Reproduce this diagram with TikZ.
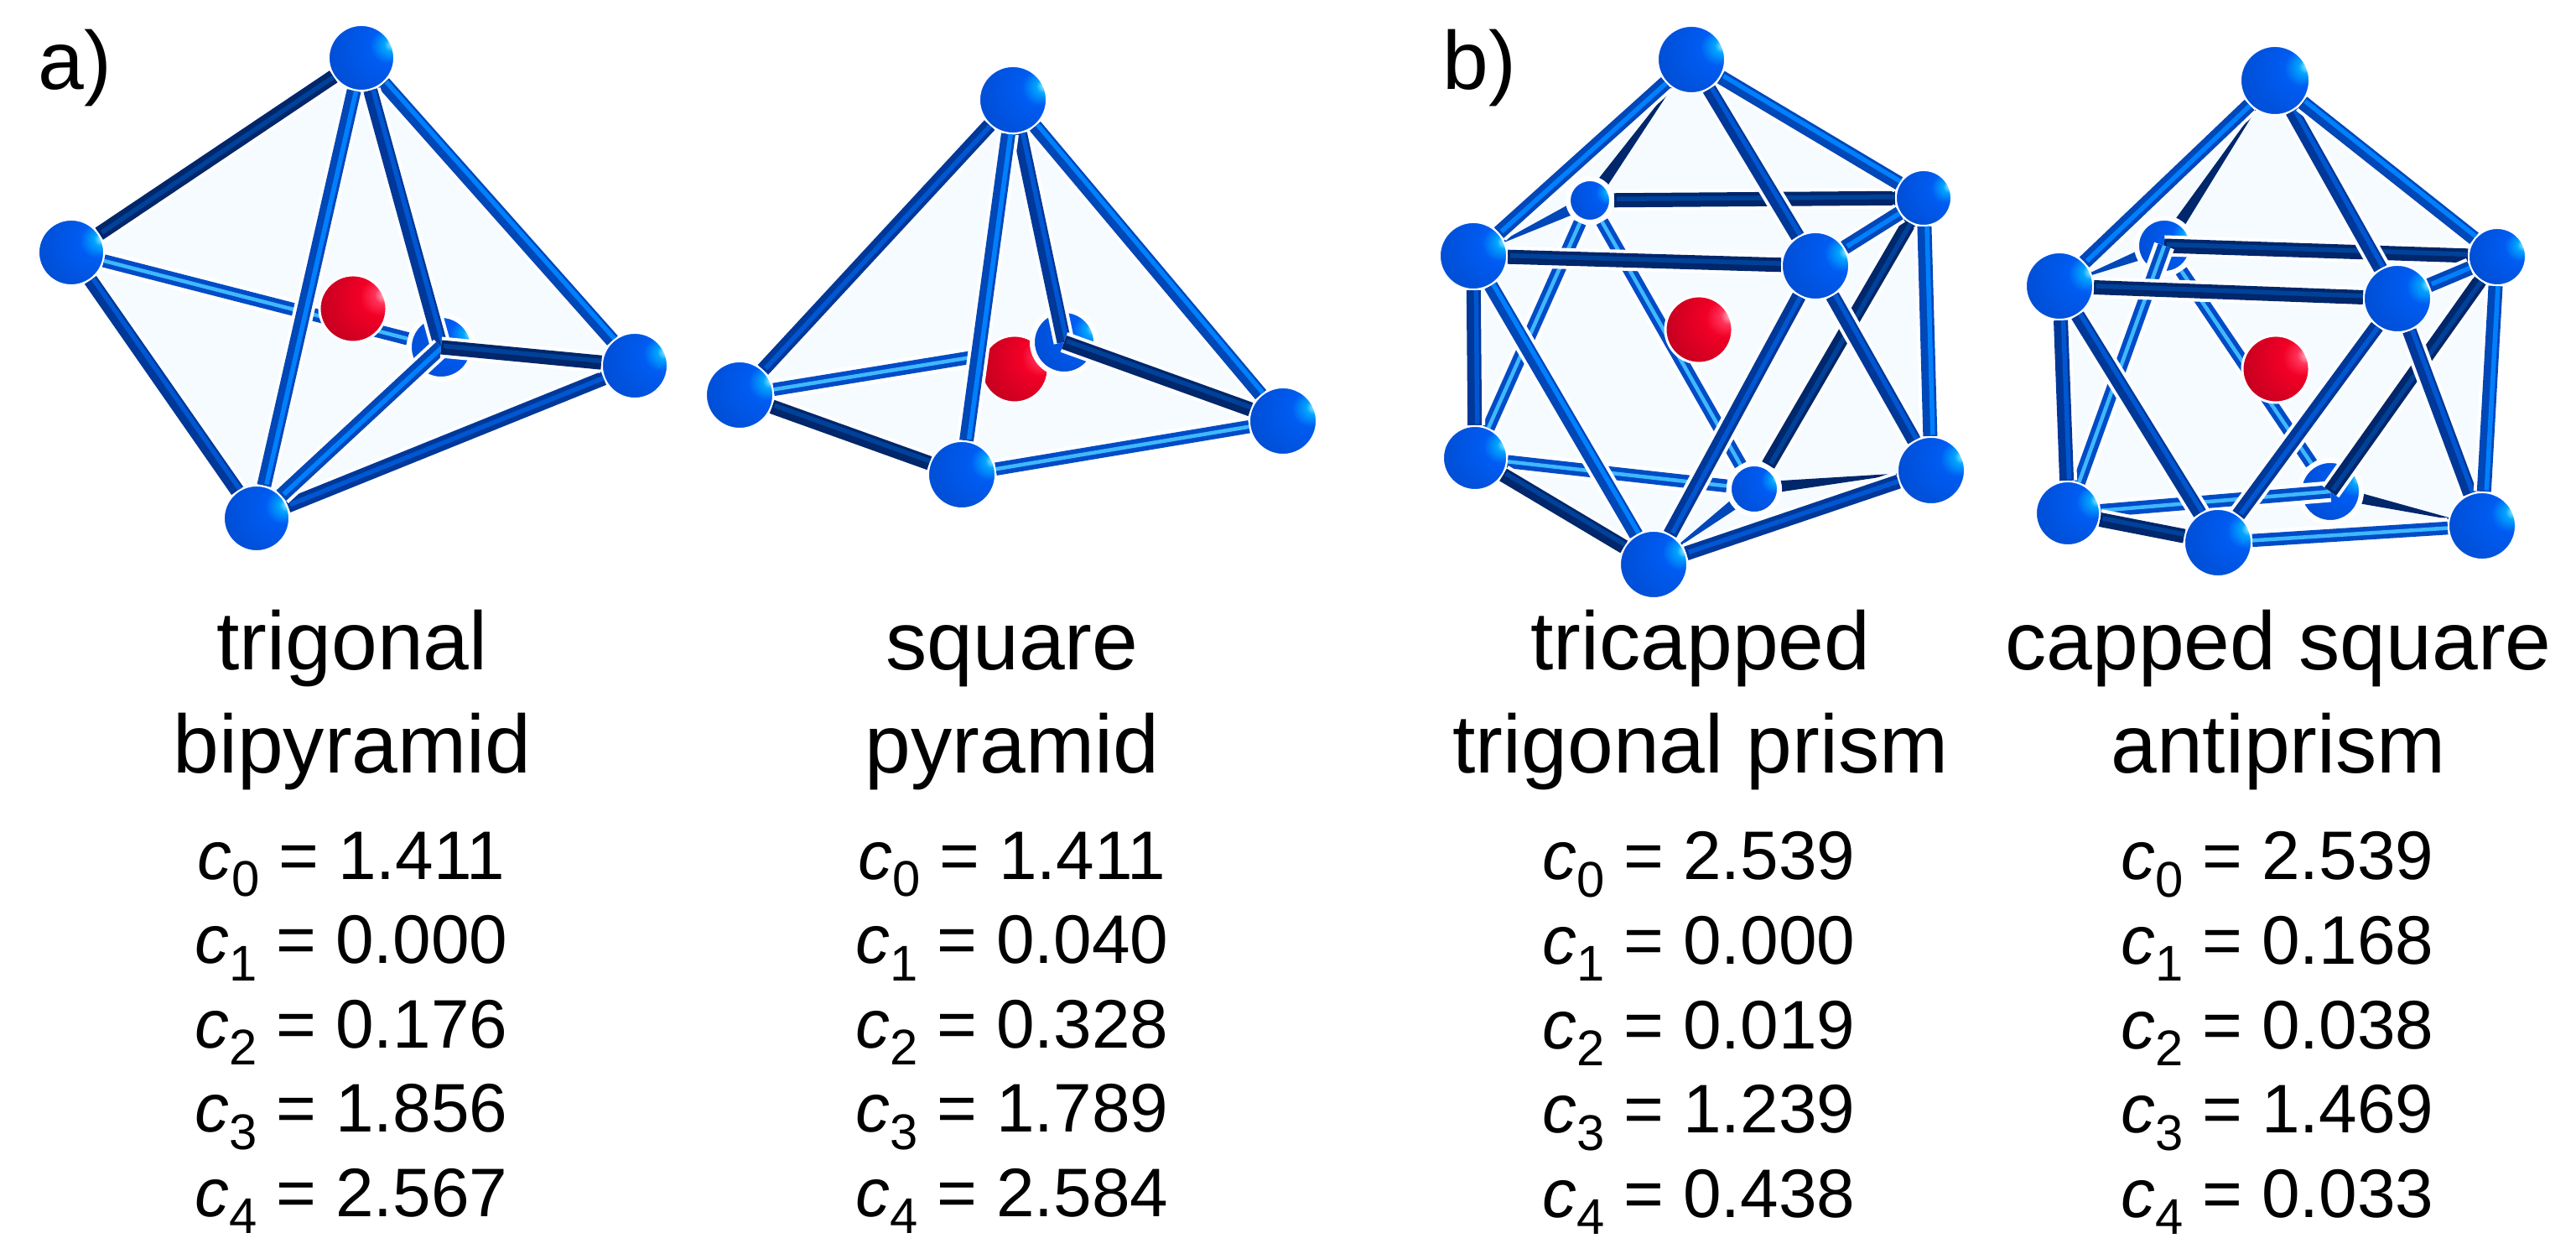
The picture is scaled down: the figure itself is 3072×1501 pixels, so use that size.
\documentclass[tikz,border=0pt]{standalone}
\usepackage{fontspec}
\setmainfont{Liberation Sans}
\usepackage{tikz}
\usetikzlibrary{calc}
\pgfdeclarelayer{faces}
\pgfdeclarelayer{rear}
\pgfdeclarelayer{core}
\pgfdeclarelayer{backatoms}
\pgfdeclarelayer{front}
\pgfsetlayers{faces,rear,core,backatoms,front,main}
\pgfdeclareradialshading{atomblue}{\pgfpoint{24bp}{11bp}}{rgb(0bp)=(.75,.97,1);rgb(5bp)=(0,.65,1);rgb(13bp)=(0,.36,.95);rgb(40bp)=(0,.3,.82);rgb(70bp)=(0,.14,.45)}
\pgfdeclareradialshading{atomred}{\pgfpoint{24bp}{11bp}}{rgb(0bp)=(1,.8,.85);rgb(6bp)=(1,.2,.35);rgb(14bp)=(.95,0,.15);rgb(40bp)=(.75,0,.12);rgb(70bp)=(.45,0,.08)}
\definecolor{facefill}{HTML}{F5FBFF}
\definecolor{cdark}{rgb}{0,.15,.42}
\definecolor{cdarkh}{rgb}{0,.26,.6}
\definecolor{cmid}{rgb}{0,.22,.6}
\definecolor{cmidh}{rgb}{0,.34,.82}
\definecolor{cbri}{rgb}{0,.28,.72}
\definecolor{cbrih}{rgb}{0,.5,1}
\definecolor{clig}{rgb}{0,.3,.78}
\definecolor{cligh}{rgb}{.25,.72,1}
\tikzset{
  atomb/.style={circle,inner sep=0pt,shading=atomblue,draw=white,line width=.02cm,minimum size=#1*.02cm},
  atomk/.style={atomb=#1,line width=.06cm},
  atomr/.style={circle,inner sep=0pt,shading=atomred,draw=white,line width=.03cm,minimum size=#1*.02cm},
  halo/.style={preaction={draw=white,line width=.25cm}},
  tube/.style 2 args={halo,draw=#1,line width=.17cm,postaction={draw=#2,line width=.055cm,transform canvas={shift={(.03cm,.015cm)}}}},
  bonddark/.style={tube={cdark}{cdarkh}},
  bondmid/.style={tube={cmid}{cmidh}},
  bondbright/.style={tube={cbri}{cbrih}},
  bondlight/.style={halo,draw=clig,line width=.055cm,double=cligh,double distance=.045cm},
  lab/.style={inner sep=0pt,anchor=north,align=center},
  title/.style={lab,font=\fontsize{28}{35}\selectfont},
  vals/.style={lab,font=\fontsize{23.3}{28.6}\selectfont},
  panel/.style={inner sep=0pt,anchor=base west,font=\fontsize{28}{30}\selectfont}
}
\newcommand{\cv}[2]{\textit{c}\raisebox{-.25em}{\fontsize{17}{17}\selectfont #1} = #2}
\begin{document}
\begin{tikzpicture}[x=.01cm,y=-.01cm]
  \useasboundingbox (0,0) rectangle (3072,1501);
  % central atoms
  \begin{pgfonlayer}{core}
    \foreach \n/\x/\y in {Ar/421/368,Br/1210/440,Cr/2026/393,Dr/2714/440}
      \node[atomr=40] (\n) at (\x,\y) {};
  \end{pgfonlayer}
  % atoms at the back
  \begin{pgfonlayer}{backatoms}
    \foreach \n/\x/\y/\r in {Ak/526/414/38,Bk/1269/408/38,Cu/1896/239/26,Cv/2092/583/30,Du/2581/293/33,Dv/2779/586/37}
      \node[atomk=\r] (\n) at (\x,\y) {};
  \end{pgfonlayer}
  % atoms in front
  \foreach \n/\x/\y/\r in {At/431/69/39,Al/85/301/39,Ab/306/618/39,Ae/757/436/39,
      Bt/1208/119/40,Bl/882/471/40,Bf/1147/566/40,Be/1530/502/40,
      Ct/2017/71/40,Cl/1757/305/40,Cf/2165/317/40,Ce/2294/236/33,Cm/1759/546/38,Cb/1972/673/40,Cn/2303/561/40,
      Dt/2713/96/41,Dl/2456/341/40,Df/2859/356/40,De/2978/306/34,Dm/2466/612/38,Db/2645/647/40,Dn/2960/627/40}
    \node[atomb=\r] (\n) at (\x,\y) {};
  % pale faces
  \begin{pgfonlayer}{faces}
    \fill[facefill] (At.center)--(Al.center)--(Ab.center)--(Ae.center)--cycle;
    \fill[facefill] (Bt.center)--(Bl.center)--(Bf.center)--(Be.center)--cycle;
    \fill[facefill] (Ct.center)--(Ce.center)--(Cn.center)--(Cb.center)--(Cm.center)--(Cl.center)--cycle;
    \fill[facefill] (Dt.center)--(De.center)--(Dn.center)--(Db.center)--(Dm.center)--(Dl.center)--cycle;
  \end{pgfonlayer}
  % bonds behind
  \begin{pgfonlayer}{rear}
    \foreach \s/\u/\v in {light/Al/Ak,
        light/Bl/Bk,
        dark/Ce/Cu,light/Cm/Cu,light/Cu/Cv,light/Cm/Cv,dark/Ce/Cv,
        light/Du/Dv}
      \draw[bond\s] (\u) -- (\v);
    % tapering ones
    \foreach \c/\u/\v in {cdark/Ct/Cu,cbri/Cl/Cu,cbri/Cb/Cv,cdark/Cn/Cv,
        cdark/Dt/Du,cbri/Dl/Du,cdark/Dn/Dv}
      \fill[\c] ($(\u)!.12!(\v)$) -- ($(\v)!.08cm!90:(\u)$) -- ($(\v)!.08cm!-90:(\u)$) -- cycle;
  \end{pgfonlayer}
  % bonds in front
  \begin{pgfonlayer}{front}
    \foreach \s/\u/\v in {dark/De/Du.center,light/Dm/Du.center,light/Dm/Dv.center,dark/De/Dv.center,
        dark/At/Al,bright/At/Ae,mid/At/Ak.center,bright/At/Ab,mid/Al/Ab,mid/Ab/Ae,bright/Ab/Ak.center,dark/Ae/Ak.center,
        mid/Bt/Bl,bright/Bt/Be,mid/Bt/Bk.center,bright/Bt/Bf,dark/Bl/Bf,light/Bf/Be,dark/Be/Bk.center,
        bright/Ct/Cl,mid/Ct/Cf,bright/Ct/Ce,dark/Cl/Cf,bright/Cf/Ce,mid/Cl/Cm,bright/Cl/Cb,mid/Cf/Cb,mid/Cf/Cn,bright/Ce/Cn,dark/Cm/Cb,mid/Cb/Cn,
        bright/Dt/Dl,mid/Dt/Df,bright/Dt/De,dark/Dl/Df,bright/Df/De,mid/Dl/Dm,mid/Dl/Db,mid/Df/Db,mid/Df/Dn,bright/De/Dn,dark/Dm/Db,light/Db/Dn}
      \draw[bond\s] (\u) -- (\v);
  \end{pgfonlayer}
  % labels
  \node[panel] (pa) at (45,107) {a)};
  \node[panel] (pb) at (1720,107) {b)};
  \node[title] (ta) at (420,726) {trigonal\\bipyramid};
  \node[title] (tb) at (1207,726) {\vphantom{l}square\\pyramid};
  \node[title] (tc) at (2028,726) {tricapped\\trigonal prism};
  \node[title] (td) at (2717,726) {capped square\\antiprism};
  \node[vals] (va) at (419,991) {\cv{0}{1.411}\\\cv{1}{0.000}\\\cv{2}{0.176}\\\cv{3}{1.856}\\\cv{4}{2.567}};
  \node[vals] (vb) at (1207,991) {\cv{0}{1.411}\\\cv{1}{0.040}\\\cv{2}{0.328}\\\cv{3}{1.789}\\\cv{4}{2.584}};
  \node[vals] (vc) at (2026,991) {\cv{0}{2.539}\\\cv{1}{0.000}\\\cv{2}{0.019}\\\cv{3}{1.239}\\\cv{4}{0.438}};
  \node[vals] (vd) at (2716,991) {\cv{0}{2.539}\\\cv{1}{0.168}\\\cv{2}{0.038}\\\cv{3}{1.469}\\\cv{4}{0.033}};
\end{tikzpicture}
\end{document}
